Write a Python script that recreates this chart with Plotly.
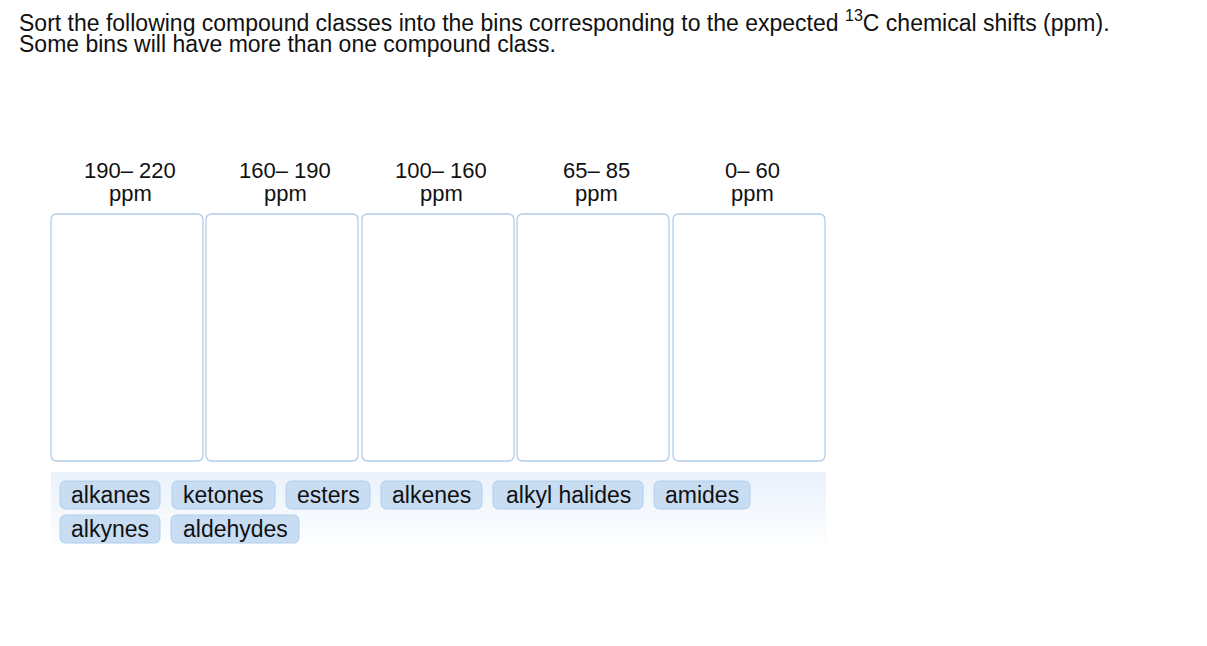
import plotly.graph_objects as go

bin_top = ["190\u2013 220", "160\u2013 190", "100\u2013 160", "65\u2013 85", "0\u2013 60"]
bin_unit = ["ppm", "ppm", "ppm", "ppm", "ppm"]
chips = ["alkanes", "ketones", "esters", "alkenes", "alkyl halides", "amides", "alkynes", "aldehydes"]
# layout (pixels)
chip_x0 = [60, 172, 286, 381, 493, 654, 60, 171]
chip_x1 = [160, 275, 370, 482, 643, 750, 160, 299]
chip_row = [0, 0, 0, 0, 0, 0, 1, 1]
bin_x0 = [51, 206, 362, 517, 673]
BW = 152

def rr(x0, y0, x1, y1, r):
    return (f"M{x0+r},{y0} L{x1-r},{y0} Q{x1},{y0} {x1},{y0+r} L{x1},{y1-r} Q{x1},{y1} {x1-r},{y1} "
            f"L{x0+r},{y1} Q{x0},{y1} {x0},{y1-r} L{x0},{y0+r} Q{x0},{y0} {x0+r},{y0} Z")

fig = go.Figure()
shapes, ann = [], []
font = "Liberation Sans, Arial, sans-serif"
for i in range(len(bin_top)):
    x0 = bin_x0[i]
    shapes.append(dict(type="path", path=rr(x0, 214, x0+BW, 461, 6), line=dict(color="#b3cde6", width=1.3), fillcolor="white"))
    ann.append(dict(x=x0+BW/2+3, y=170, text=bin_top[i], showarrow=False, font=dict(family=font, size=22, color="#111"), xanchor="center", yanchor="middle"))
    ann.append(dict(x=x0+BW/2+3, y=193, text=bin_unit[i], showarrow=False, font=dict(family=font, size=22, color="#111"), xanchor="center", yanchor="middle"))
for k in range(12):
    y0 = 472 + k*6
    a = 0.9 - k*0.07
    shapes.append(dict(type="rect", x0=51, x1=826, y0=y0, y1=y0+6, line=dict(width=0), fillcolor=f"rgba(232,241,250,{max(a,0.1)})", layer="below"))
for i, c in enumerate(chips):
    y0 = 481 + chip_row[i]*34
    shapes.append(dict(type="path", path=rr(chip_x0[i], y0, chip_x1[i], y0+28, 6), line=dict(color="#b0cfee", width=1), fillcolor="#c8dcf2"))
    ann.append(dict(x=(chip_x0[i]+chip_x1[i])/2, y=y0+14, text=c, showarrow=False, font=dict(family=font, size=23, color="#111"), xanchor="center", yanchor="middle"))
ann.append(dict(x=17, y=21, text="Sort the following compound classes into the bins corresponding to the expected <sup>13</sup>C chemical shifts (ppm).", showarrow=False, xanchor="left", yanchor="middle", font=dict(family=font, size=23, color="#111")))
ann.append(dict(x=17, y=44, text="Some bins will have more than one compound class.", showarrow=False, xanchor="left", yanchor="middle", font=dict(family=font, size=23, color="#111")))

fig.update_layout(width=1207, height=646, margin=dict(l=0, r=0, t=0, b=0), plot_bgcolor="white", paper_bgcolor="white",
                  shapes=shapes, annotations=ann,
                  xaxis=dict(range=[8, 1215], visible=False, fixedrange=True),
                  yaxis=dict(range=[654, 8], visible=False, fixedrange=True), showlegend=False)
fig.write_html("out.html", config={"displayModeBar": False})
